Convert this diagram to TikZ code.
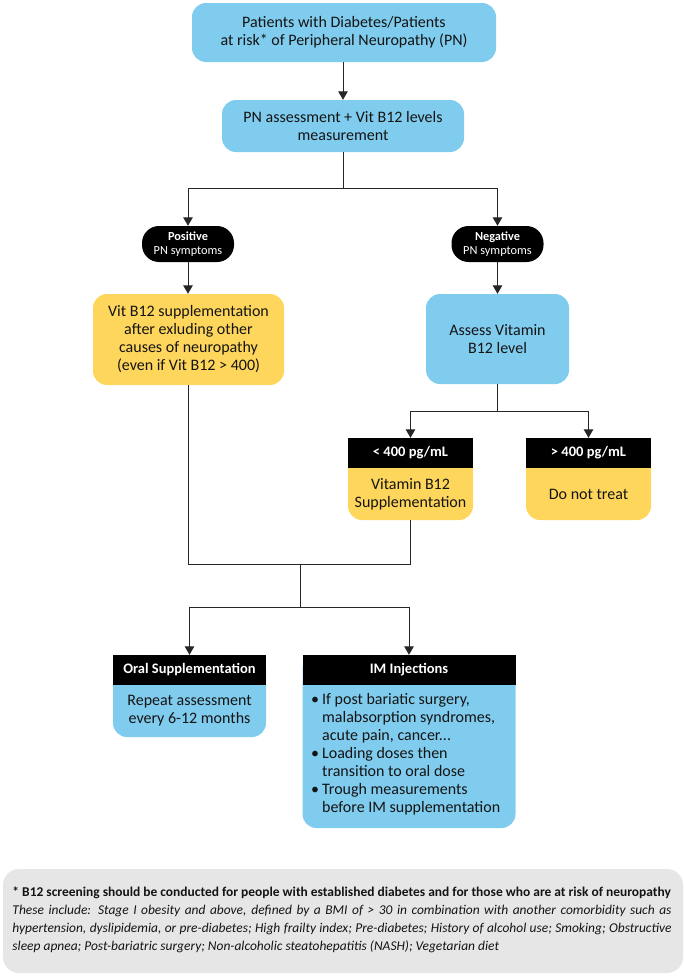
\documentclass[tikz,border=0pt]{standalone}
\usepackage{fontspec}
\setmainfont{Carlito}
\usetikzlibrary{arrows.meta}
\definecolor{bluebox}{RGB}{128,204,238}
\definecolor{yellowbox}{RGB}{255,214,92}
\definecolor{graybox}{RGB}{230,230,230}
\definecolor{inktext}{RGB}{20,20,20}
\begin{document}
\begin{tikzpicture}[x=1pt,y=-1pt,
 box/.style={rounded corners=14pt, inner sep=0pt, align=center, text=inktext, font=\fontsize{16}{18}\selectfont},
 bluenode/.style={box, fill=bluebox},
 yellownode/.style={box, fill=yellowbox},
 pill/.style={fill=black, text=white, rounded corners=17pt, inner sep=0pt, align=center, font=\fontsize{12.3}{13.5}\selectfont, minimum width=92pt, minimum height=36pt},
 header/.style={fill=black, text=white, inner sep=0pt, minimum height=30pt, font=\bfseries\fontsize{14.5}{16}\selectfont},
 plain/.style={inner sep=0pt, align=center, text=inktext, font=\fontsize{16}{18}\selectfont},
 conn/.style={line width=1pt, draw=black!85},
 arr/.style={conn, -{Triangle[length=8.5pt,width=9.5pt]}},
]
\useasboundingbox (0,0) rectangle (685,978);

% top
\node[bluenode, minimum width=304pt, minimum height=59pt] (top) at (344,32.5)
  {Patients with Diabetes/Patients\\at risk* of Peripheral Neuropathy (PN)};
\node[bluenode, minimum width=242pt, minimum height=52pt] (assess1) at (343,126)
  {PN assessment + Vit B12 levels\\measurement};

% pills
\node[pill] (pos) at (188,244) {\textbf{Positive}\\PN symptoms};
\node[pill] (neg) at (497.5,244) {\textbf{Negative}\\PN symptoms};

% second row
\node[yellownode, minimum width=191pt, minimum height=91pt] (vitsup) at (188.5,339.5)
  {Vit B12 supplementation\\after exluding other\\causes of neuropathy\\(even if Vit B12 > 400)};
\node[bluenode, minimum width=143pt, minimum height=90pt] (assess2) at (497.5,339)
  {Assess Vitamin\\B12 level};

% level boxes
\node[yellownode, minimum width=125pt, minimum height=82pt] (lobox) at (410.5,479) {};
\node[header, minimum width=125pt] (lohead) at (410.5,453) {< 400 pg/mL};
\node[plain] (lotext) at (410.5,494) {Vitamin B12\\Supplementation};

\node[yellownode, minimum width=125pt, minimum height=82pt] (hibox) at (588.5,479) {};
\node[header, minimum width=125pt] (hihead) at (588.5,453) {> 400 pg/mL};
\node[plain] (hitext) at (588.5,494) {Do not treat};

% bottom boxes
\node[bluenode, minimum width=153pt, minimum height=82pt] (oralbox) at (189.5,696) {};
\node[header, minimum width=153pt] (oralhead) at (189.5,670) {Oral Supplementation};
\node[plain] (oraltext) at (189.5,711) {Repeat assessment\\every 6-12 months};

\node[bluenode, minimum width=213pt, minimum height=173pt] (imbox) at (409,741.5) {};
\node[header, minimum width=213pt] (imhead) at (409,670) {IM Injections};
\node[plain, anchor=west, align=left] (imtext) at (311,755) {%
  \begin{tabular}{@{}l@{\hspace{3pt}}l@{}}
  • & If post bariatic surgery,\\
    & malabsorption syndromes,\\
    & acute pain, cancer...\\
  • & Loading doses then\\
    & transition to oral dose\\
  • & Trough measurements\\
    & before IM supplementation
  \end{tabular}};

% footnote
\node[fill=graybox, rounded corners=16pt, minimum width=680pt, minimum height=104pt, inner sep=0pt] (notebox) at (343,921) {};
\node[inner sep=0pt, text width=659pt, align=justify, text=inktext, font=\fontsize{13.45}{18}\selectfont] (notetext) at (342,920)
  {\hyphenpenalty=10000 {\bfseries * B12 screening should be conducted for people with established diabetes and for those who are at risk of neuropathy}\par
   {\itshape These include: Stage I obesity and above, defined by a BMI of > 30 in combination with another comorbidity such as\linebreak hypertension, dyslipidemia, or pre-diabetes; High frailty index; Pre-diabetes; History of alcohol use; Smoking; Obstructive\linebreak sleep apnea; Post-bariatric surgery; Non-alcoholic steatohepatitis (NASH); Vegetarian diet\par}};

% connectors
\draw[arr] (top.south -| assess1) -- (assess1.north);
\coordinate (j1) at (343,188);
\draw[conn] (assess1.south) -- (j1);
\draw[arr] (j1) -| (pos.north);
\draw[arr] (j1) -| (neg.north);
\draw[arr] (pos.south) -- (vitsup.north -| pos);
\draw[arr] (neg.south) -- (assess2.north -| neg);
\coordinate (j2) at (497.5,411);
\draw[conn] (assess2.south) -- (j2);
\draw[arr] (j2) -| (lohead.north);
\draw[arr] (j2) -| (hihead.north);
\coordinate (j3) at (300,564);
\draw[conn] (vitsup.south) |- (j3);
\draw[conn] (lobox.south) |- (j3);
\coordinate (j4) at (300,607);
\draw[conn] (j3) -- (j4);
\draw[arr] (j4) -| (oralhead.north);
\draw[arr] (j4) -| (imhead.north);
\end{tikzpicture}
\end{document}
